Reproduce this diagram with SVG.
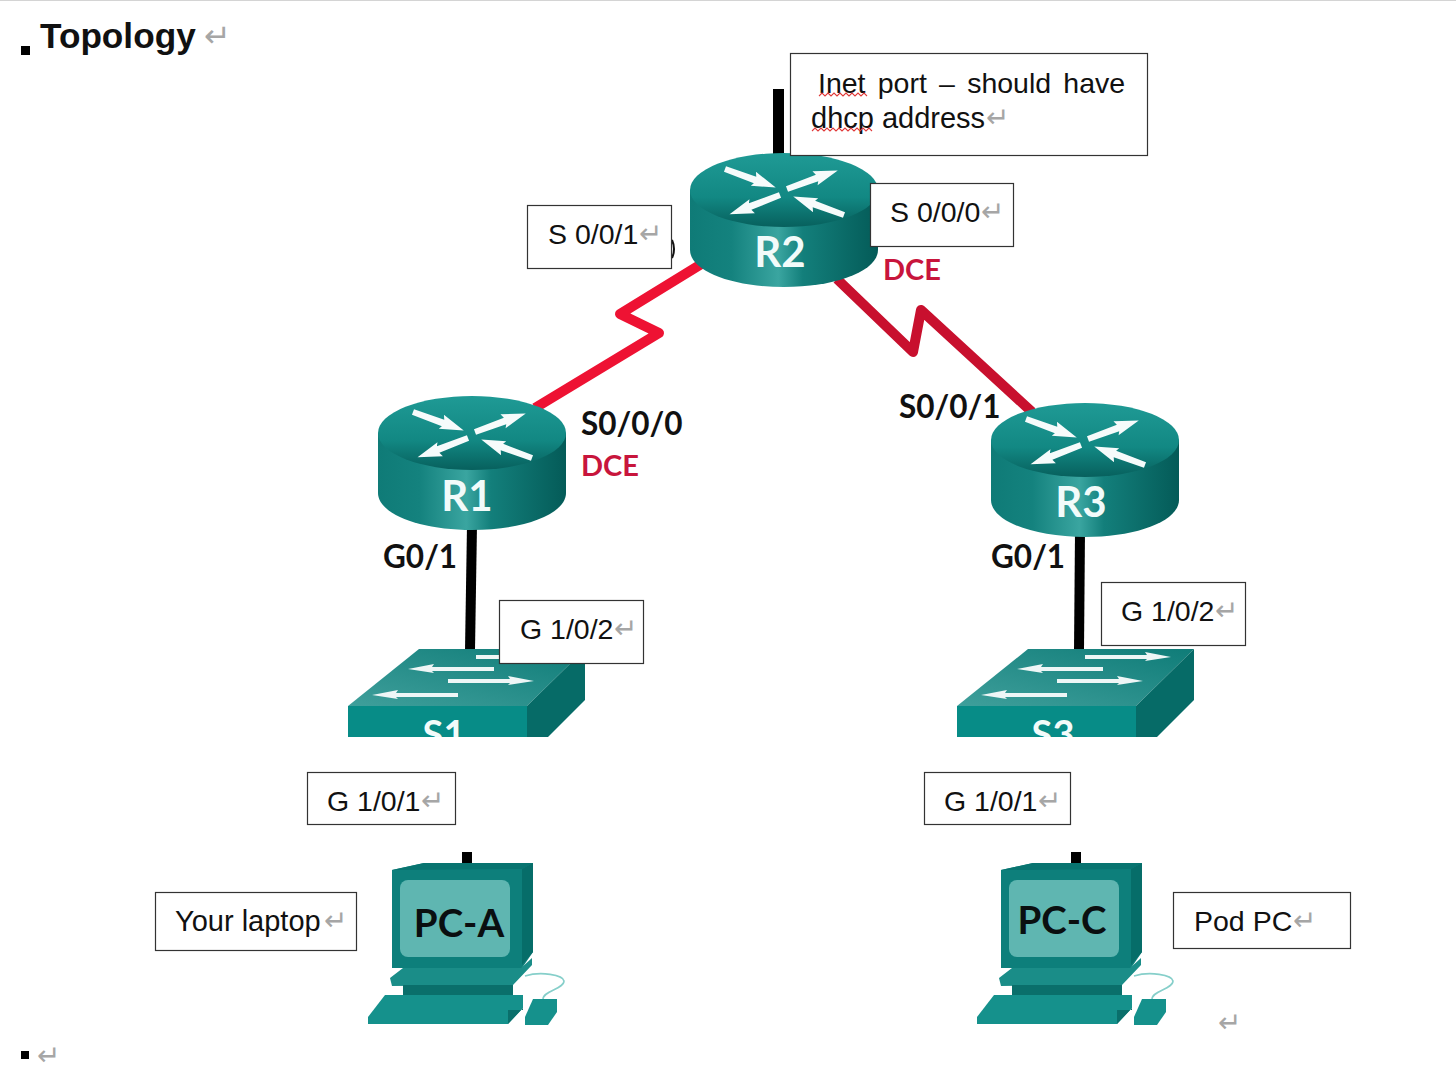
<svg xmlns="http://www.w3.org/2000/svg" width="1456" height="1080" viewBox="0 0 1456 1080">
<style>
.box{fill:#fff;stroke:#333;stroke-width:1.2}
.t{font-family:"Liberation Sans",Arial,sans-serif;font-size:28.500px;fill:#111}
.ret{font-family:"DejaVu Sans",sans-serif;font-size:28px;fill:#a6a6a6}
.lb{font-family:Lato,"Open Sans",sans-serif;font-weight:700;font-size:31.500px;fill:#111}
.dce{fill:#c8153c;font-size:29px}
.nm{font-family:Lato,"Open Sans",sans-serif;font-weight:700;font-size:42px;fill:#f2fbfa;text-anchor:middle}
.pcn{font-family:Lato,"Open Sans",sans-serif;font-weight:700;font-size:38.500px;fill:#0a0f10;text-anchor:middle}
.sq{fill:none;stroke:#e03a3a;stroke-width:1.1}
.wire{fill:none;stroke-linejoin:round;stroke-width:10}
</style>
<defs>
<linearGradient id="body" x1="0" x2="1" y1="0" y2="0">
<stop offset="0" stop-color="#0f7b77"/><stop offset=".22" stop-color="#14827e"/><stop offset=".47" stop-color="#3aa5a0"/><stop offset=".6" stop-color="#137f7b"/><stop offset="1" stop-color="#045b58"/>
</linearGradient>
<linearGradient id="top" x1="0" x2="0" y1="0" y2="1">
<stop offset="0" stop-color="#1f9a95"/><stop offset=".6" stop-color="#128883"/><stop offset="1" stop-color="#07605d"/>
</linearGradient>
<linearGradient id="swtop" x1="0" x2="1" y1="1" y2="0">
<stop offset="0" stop-color="#3f9f9b"/><stop offset="1" stop-color="#0f7c78"/>
</linearGradient>
<path id="rarrow" d="M0,-3L32,-3.500L30,-8L54,0L30,7L32,3.500L0,3Z" fill="#f6fbfb"/>
<path id="sarrR" d="M0,-2L62,-2L60,-5L86,0L60,4L62,2L0,2Z" fill="#eef6f6"/>
<path id="sarrL" d="M86,-2L24,-2L26,-5L0,0L26,4L24,2L86,2Z" fill="#eef6f6"/>
<g id="router">
<path d="M0,38V98C0,119 42,135 94,135C146,135 188,119 188,98V38Z" fill="url(#body)"/>
<ellipse cx="94" cy="38" rx="94" ry="37" fill="url(#top)"/>
<use href="#rarrow" transform="translate(35,17) rotate(20)"/>
<use href="#rarrow" transform="translate(97,37) rotate(-20)"/>
<use href="#rarrow" transform="translate(90,43) rotate(159)"/>
<use href="#rarrow" transform="translate(154,63) rotate(200)"/>
</g>
<g id="switch">
<path d="M71,1L237,1L179,58H0Z" fill="url(#swtop)"/>
<path d="M179,58L237,1V52L200,89H179Z" fill="#066b67"/>
<rect x="0" y="58" width="179" height="31" fill="#078c87"/>
<use href="#sarrR" transform="translate(128,9)"/>
<use href="#sarrL" transform="translate(60,21)"/>
<use href="#sarrR" transform="translate(100,33)"/>
<use href="#sarrL" transform="translate(24,47)"/>
</g>
<clipPath id="swclip"><rect x="-10" y="-5" width="260" height="94"/></clipPath>
<g id="pc">
<path d="M1,7L33,0H142V89L131,105H1Z" fill="#0d7f7b"/>
<path d="M131,6L142,0V89L131,102Z" fill="#066d69"/>
<path d="M1,7L33,0H142L131,6Z" fill="#087470"/>
<rect x="9" y="17" width="110" height="77" rx="8" fill="#5fb6b1"/>
<path d="M-1,115L12,105H130L141,95V102L122,122L1,123Z" fill="#1a8d88"/>
<rect x="12" y="122" width="110" height="10" fill="#0a6f6b"/>
<path d="M-6,132H132V145L117,161H-23V154Z" fill="#15918c"/>
<path d="M117,147H132V145L117,161Z" fill="#0a6f6b"/>
<path d="M142,136H166V149L157,162H134V154Z" fill="#15918c"/>
<path d="M134,113C150,108 172,112 173,118C173,126 152,128 152,136" fill="none" stroke="#86cfca" stroke-width="1.6"/>
</g>
</defs>
<rect width="1456" height="1080" fill="#fff"/>
<rect x="0" y="0" width="1456" height="1" fill="#d4d4d4"/>

<g id="connectors">
<path class="wire" stroke="#000" d="M778.500,89V160" style="stroke-width:11"/>
<path class="wire" stroke="#ee1233" d="M703,263L620,314L659,333L535,408"/>
<path class="wire" stroke="#c8102e" d="M837,279L913,352L921,310L1032,412"/>
<path class="wire" stroke="#000" d="M472,525L470,650"/>
<path class="wire" stroke="#000" d="M1080,532L1079,650"/>
<path class="wire" stroke="#000" d="M467,852V866"/>
<path class="wire" stroke="#000" d="M1076,852V866"/>
</g>

<g id="title">
<rect x="21" y="46" width="9" height="9" fill="#000"/>
<text x="40" y="48" font-family="Liberation Sans,Arial,sans-serif" font-weight="700" font-size="35.200" fill="#111">Topology</text>
<text class="ret" x="204" y="47" style="font-size:32px">↵</text>
</g>

<g id="R2"><use href="#router" x="690" y="152"/><text class="nm" x="780" y="267">R2</text></g>
<g id="R1"><use href="#router" x="378" y="395"/><text class="nm" x="467" y="511">R1</text></g>
<g id="R3"><use href="#router" x="991" y="402"/><text class="nm" x="1081" y="517">R3</text></g>

<g id="S1" transform="translate(348,648)" clip-path="url(#swclip)"><use href="#switch"/><text class="nm" x="96" y="100" style="font-size:38px">S1</text></g>
<g id="S3" transform="translate(957,648)" clip-path="url(#swclip)"><use href="#switch"/><text class="nm" x="96" y="100" style="font-size:38px">S3</text></g>

<g id="PC-A"><use href="#pc" x="391" y="863"/><text class="pcn" x="459" y="937">PC-A</text></g>
<g id="PC-C"><use href="#pc" x="1000" y="863"/><text class="pcn" x="1062" y="934">PC-C</text></g>

<g id="port-labels">
<text class="lb" x="581" y="435">S0/0/0</text>
<text class="lb dce" x="581" y="476">DCE</text>
<text class="lb dce" x="883" y="280">DCE</text>
<text class="lb" x="899" y="418">S0/0/1</text>
<text class="lb" x="383" y="568">G0/1</text>
<text class="lb" x="991" y="568">G0/1</text>
</g>

<g id="note-inet">
<rect class="box" x="790.500" y="53.500" width="357" height="102"/>
<text class="t" x="818" y="93" word-spacing="4.300">Inet port – should have</text>
<text class="t" x="811" y="128" style="font-size:29px">dhcp address</text>
<text class="ret" x="986" y="127">↵</text>
<path class="sq" d="M819,96l3,-3l3,3l3,-3l3,3l3,-3l3,3l3,-3l3,3l3,-3l3,3l3,-3l3,3l3,-3l3,3l3,-3l3,3"/>
<path class="sq" d="M812,131l3,-3l3,3l3,-3l3,3l3,-3l3,3l3,-3l3,3l3,-3l3,3l3,-3l3,3l3,-3l3,3l3,-3l3,3l3,-3l3,3l3,-3l3,3"/>
</g>
<g id="note-s000"><rect class="box" x="870.500" y="183.500" width="143" height="63"/><text class="t" x="890" y="222">S 0/0/0</text><text class="ret" x="981" y="221">↵</text></g>
<g id="note-s001"><path d="M672,240Q676,249 672,258" fill="none" stroke="#111" stroke-width="2"/><rect class="box" x="527.500" y="205.500" width="144" height="63"/><text class="t" x="548" y="244">S 0/0/1</text><text class="ret" x="639" y="243">↵</text></g>
<g id="note-g102-a"><rect class="box" x="499.500" y="600.500" width="144" height="63"/><text class="t" x="520" y="639">G 1/0/2</text><text class="ret" x="614" y="638">↵</text></g>
<g id="note-g102-c"><rect class="box" x="1101.500" y="582.500" width="144" height="63"/><text class="t" x="1121" y="621">G 1/0/2</text><text class="ret" x="1215" y="620">↵</text></g>
<g id="note-g101-a"><rect class="box" x="307.500" y="772.500" width="148" height="52"/><text class="t" x="327" y="811">G 1/0/1</text><text class="ret" x="421" y="810">↵</text></g>
<g id="note-g101-c"><rect class="box" x="924.500" y="772.500" width="146" height="52"/><text class="t" x="944" y="811">G 1/0/1</text><text class="ret" x="1038" y="810">↵</text></g>
<g id="note-laptop"><rect class="box" x="155.500" y="892.500" width="201" height="58"/><text class="t" x="175" y="931" style="font-size:29px">Your laptop</text><text class="ret" x="324" y="930">↵</text></g>
<g id="note-pod"><rect class="box" x="1173.500" y="892.500" width="177" height="56"/><text class="t" x="1194" y="931">Pod PC</text><text class="ret" x="1293" y="930">↵</text></g>

<g id="end-marks">
<rect x="21" y="1051" width="8" height="8" fill="#000"/>
<text class="ret" x="37" y="1065">↵</text>
<text class="ret" x="1218" y="1032">↵</text>
</g>
</svg>
